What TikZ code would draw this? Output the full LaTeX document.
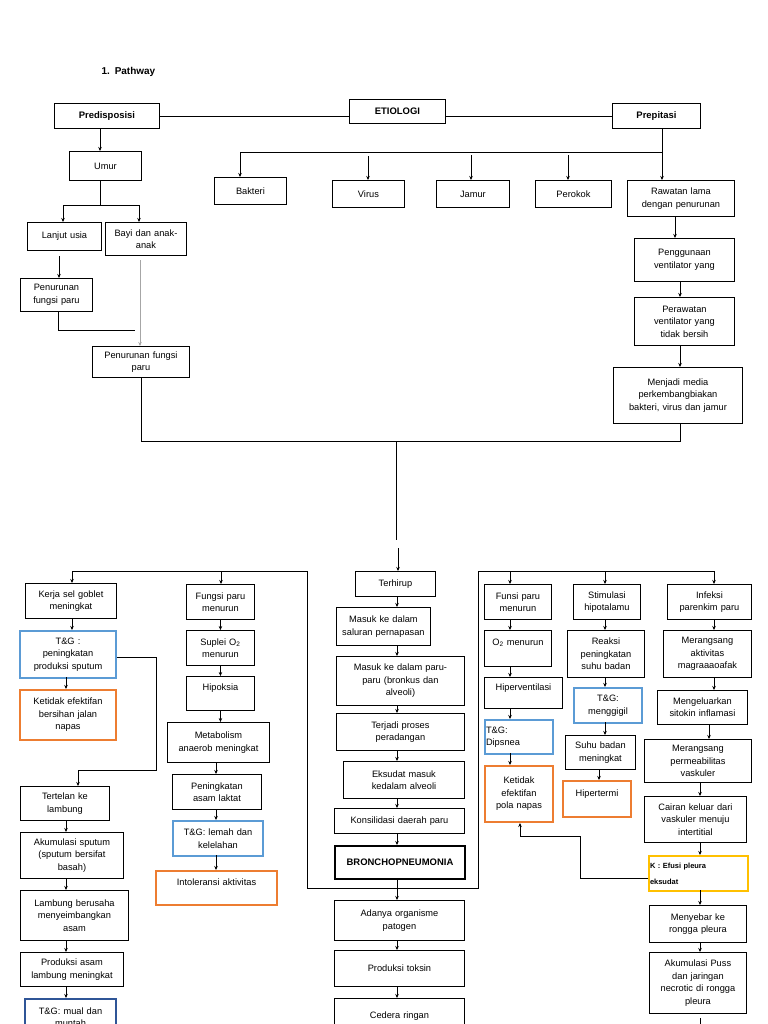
\documentclass[tikz,border=0pt]{standalone}
\usepackage{fontspec}
\setmainfont{Liberation Sans}
\usetikzlibrary{arrows.meta,calc}
\definecolor{cblue}{RGB}{91,155,213}
\definecolor{cdblue}{RGB}{47,85,151}
\definecolor{corange}{RGB}{237,125,49}
\definecolor{cyellow}{RGB}{255,192,0}
\newcommand\bx[7]{\pgfmathsetmacro\bw{#4-#2}\pgfmathsetmacro\bh{#5-#3}\pgfmathsetmacro\tw{#4-#2-2}%
\node[box,#6,minimum width=\bw bp,minimum height=\bh bp,text width=\tw bp,anchor=north west] (#1) at (#2,#3) {#7};}
\newcommand\ar[2]{\draw[arr] (#1.south) -- (#1.south |- #2.north);}
\begin{document}
\hyphenpenalty=10000
\begin{tikzpicture}[x=1bp,y=-1bp,
  box/.style={draw,line width=0.9pt,inner sep=1bp,align=center,font=\fontsize{9.3}{12.5}\selectfont},
  blu/.style={draw=cblue,line width=2pt},
  dblu/.style={draw=cdblue,line width=2pt},
  ora/.style={draw=corange,line width=2pt},
  yel/.style={draw=cyellow,line width=2pt},
  bld/.style={font=\fontsize{9.5}{12.5}\selectfont\bfseries},
  arr/.style={-{Stealth[length=4bp,width=3.5bp]},line width=0.7pt},
  ln/.style={line width=0.8pt}]
\useasboundingbox (0,0) rectangle (768,1024);
\clip (0,0) rectangle (768,1024);
\node[anchor=west,font=\fontsize{10}{12}\selectfont\bfseries] (title) at (98,72) {1.\enspace Pathway};
% top
\bx{pre}{54}{103}{159}{128}{bld}{Predisposisi}
\bx{eti}{349}{99}{445}{123}{bld}{ETIOLOGI}
\bx{prep}{612}{103}{700}{128}{bld}{Prepitasi}
\draw[ln] (pre.east) -- (eti.west |- pre.east);
\draw[ln] (eti.east |- prep.west) -- (prep.west);
\bx{umur}{69}{151}{141}{180}{}{Umur}
\draw[arr] (100,128) -- (100,151);
\bx{lanjut}{27}{222}{101}{250}{}{Lanjut usia}
\bx{bayi}{105}{222}{186}{255}{}{Bayi dan anak-\\anak}
\coordinate (uj) at (100,205);
\draw[ln] (umur.south -| uj) -- (uj);
\draw[arr] (63,205) -- (63,222);
\draw[arr] (139,205) -- (139,222);
\draw[ln] (63,205) -- (139,205);
\bx{pfp1}{20}{278}{92}{311}{}{Penurunan\\fungsi paru}
\draw[arr] (59,256) -- (pfp1.north -| 59,0);
\bx{pfp2}{92}{346}{189}{377}{}{Penurunan fungsi\\paru}
\draw[ln] (58,311) -- (58,330) -- (135,330);
\draw[arr,gray!70] (140,260) -- (pfp2.north -| 140,0);
% etiologi items
\bx{bak}{214}{177}{286}{204}{}{Bakteri}
\bx{vir}{332}{180}{404}{207}{}{Virus}
\bx{jam}{436}{180}{509}{207}{}{Jamur}
\bx{per}{535}{180}{611}{207}{}{Perokok}
\bx{raw}{627}{180}{734}{216}{}{Rawatan lama\\dengan penurunan}
\draw[ln] (240,152) -- (662,152);
\draw[arr] (662,128) -- (662,180);
\draw[arr] (240,152) -- (240,177);
\draw[arr] (368,156) -- (vir.north -| 368,0);
\draw[arr] (471,155) -- (jam.north -| 471,0);
\draw[arr] (568,155) -- (per.north -| 568,0);
\bx{peng}{634}{238}{734}{281}{}{Penggunaan\\ventilator yang}
\bx{pera}{634}{297}{734}{345}{}{Perawatan\\ventilator yang\\tidak bersih}
\bx{menj}{613}{367}{742}{423}{}{Menjadi media\\perkembangbiakan\\bakteri, virus dan jamur}
\draw[arr] (675,216) -- (675,238);
\draw[arr] (680,281) -- (680,297);
\draw[arr] (680,345) -- (680,367);
\draw[ln] (141,377) -- (141,441) -- (680,441) -- (680,423);
\draw[ln] (396,441) -- (396,540);
% middle
\bx{ter}{355}{571}{435}{596}{}{Terhirup}
\draw[arr] (398,548) -- (ter.north -| 398,0);
\bx{m1}{336}{607}{430}{645}{}{Masuk ke dalam\\saluran pernapasan}
\bx{m2}{336}{656}{464}{705}{}{Masuk ke dalam paru-\\paru (bronkus dan\\alveoli)}
\bx{m3}{336}{713}{464}{750}{}{Terjadi proses\\peradangan}
\bx{m4}{343}{761}{464}{798}{}{Eksudat masuk\\kedalam alveoli}
\bx{m5}{334}{808}{464}{833}{}{Konsilidasi daerah paru}
\bx{bp}{334}{845}{464}{878}{line width=2pt,bld}{BRONCHOPNEUMONIA}
\bx{m6}{334}{900}{464}{940}{}{Adanya organisme\\patogen}
\bx{m7}{334}{950}{464}{986}{}{Produksi toksin}
\bx{m8}{334}{998}{464}{1034}{}{Cedera ringan}
\draw[arr] (397,596) -- (397,607);
\draw[arr] (397,645) -- (397,656);
\draw[arr] (397,705) -- (397,713);
\draw[arr] (397,750) -- (397,761);
\draw[arr] (397,798) -- (397,808);
\draw[arr] (397,833) -- (397,845);
\draw[arr] (397,878) -- (397,900);
\draw[arr] (397,940) -- (397,950);
\draw[arr] (397,986) -- (397,998);
% bracket
\draw[ln] (72,571) -- (307,571) -- (307,888) -- (478,888) -- (478,571) -- (714,571);
% left col
\bx{k1}{25}{583}{116}{618}{}{Kerja sel goblet\\meningkat}
\bx{k2}{19}{630}{115}{677}{blu}{T\&G :\\peningkatan\\produksi sputum}
\bx{k3}{19}{689}{115}{739}{ora}{Ketidak efektifan\\bersihan jalan\\napas}
\bx{k4}{20}{786}{109}{820}{}{Tertelan ke\\lambung}
\bx{k5}{20}{832}{123}{878}{}{Akumulasi sputum\\(sputum bersifat\\basah)}
\bx{k6}{20}{890}{128}{940}{}{Lambung berusaha\\menyeimbangkan\\asam}
\bx{k7}{20}{952}{123}{986}{}{Produksi asam\\lambung meningkat}
\bx{k8}{24}{998}{115}{1034}{dblu}{T\&G: mual dan\\muntah}
\draw[arr] (72,571) -- (k1.north -| 72,0);
\draw[arr] (72,618) -- (72,630);
\draw[arr] (66,677) -- (66,689);
\draw[ln] (k2.east |- 0,657) -- (156,657) -- (156,770) -- (78,770);
\draw[arr] (78,770) -- (k4.north -| 78,0);
\draw[arr] (66,820) -- (66,832);
\draw[arr] (66,878) -- (66,890);
\draw[arr] (66,940) -- (66,952);
\draw[arr] (66,986) -- (66,998);
\bx{f1}{186}{584}{254}{619}{}{Fungsi paru\\menurun}
\bx{f2}{186}{630}{254}{665}{}{Suplei O\textsubscript{2}\\menurun}
\bx{f3}{186}{676}{254}{710}{}{Hipoksia\\\mbox{}}
\bx{f4}{167}{722}{269}{762}{}{Metabolism\\anaerob meningkat}
\bx{f5}{172}{774}{261}{809}{}{Peningkatan\\asam laktat}
\bx{f6}{172}{820}{262}{855}{blu}{T\&G: lemah dan\\kelelahan}
\bx{f7}{155}{870}{276}{904}{ora}{Intoleransi aktivitas\\\mbox{}}
\draw[arr] (221,571) -- (f1.north -| 221,0);
\ar{f1}{f2}\ar{f2}{f3}\ar{f3}{f4}
\draw[arr] (216,762) -- (216,774);
\draw[arr] (216,809) -- (216,820);
\draw[arr] (216,855) -- (216,870);
% right cols
\bx{r1}{484}{584}{551}{619}{}{Funsi paru\\menurun}
\bx{r2}{484}{630}{551}{666}{}{O\textsubscript{2} menurun\\\mbox{}}
\bx{r3}{484}{677}{562}{708}{}{Hiperventilasi\\\mbox{}}
\bx{r4}{484}{719}{552}{753}{blu,align=left}{T\&G:\\Dipsnea}
\bx{r5}{484}{765}{552}{821}{ora}{Ketidak\\efektifan\\pola napas}
\draw[arr] (510,571) -- (r1.north -| 510,0);
\draw[arr] (510,619) -- (510,630);
\draw[arr] (510,666) -- (510,677);
\draw[arr] (510,708) -- (510,719);
\draw[arr] (510,753) -- (510,765);
\bx{s1}{573}{584}{640}{619}{}{Stimulasi\\hipotalamu}
\bx{s2}{567}{630}{644}{677}{}{Reaksi\\peningkatan\\suhu badan}
\bx{s3}{573}{687}{641}{722}{blu}{T\&G:\\menggigil}
\bx{s4}{565}{735}{635}{769}{}{Suhu badan\\meningkat}
\bx{s5}{562}{780}{630}{816}{ora}{Hipertermi\\\mbox{}}
\draw[arr] (605,571) -- (s1.north -| 605,0);
\draw[arr] (605,619) -- (605,630);
\draw[arr] (605,677) -- (605,687);
\draw[arr] (605,722) -- (605,735);
\draw[arr] (599,769) -- (599,780);
\bx{i1}{667}{584}{751}{619}{}{Infeksi\\parenkim paru}
\bx{i2}{663}{630}{751}{677}{}{Merangsang\\aktivitas\\magraaaoafak}
\bx{i3}{657}{690}{747}{724}{}{Mengeluarkan\\sitokin inflamasi}
\bx{i4}{644}{739}{751}{782}{}{Merangsang\\permeabilitas\\vaskuler}
\bx{i5}{644}{796}{746}{842}{}{Cairan keluar dari\\vaskuler menuju\\intertitial}
\bx{i6}{648}{855}{747}{890}{yel,align=left,font=\fontsize{7.5}{16}\selectfont\bfseries}{K : Efusi pleura\\eksudat}
\bx{i7}{649}{905}{746}{942}{}{Menyebar ke\\rongga pleura}
\bx{i8}{649}{952}{746}{1013}{}{Akumulasi Puss\\dan jaringan\\necrotic di rongga\\pleura}
\draw[arr] (714,571) -- (i1.north -| 714,0);
\draw[arr] (714,619) -- (714,630);
\draw[arr] (714,677) -- (714,690);
\draw[arr] (709,724) -- (709,739);
\draw[arr] (700,782) -- (700,796);
\draw[arr] (700,842) -- (700,855);
\draw[arr] (700,890) -- (700,905);
\draw[arr] (700,942) -- (700,952);
\draw[ln] (700,1018) -- (700,1024);
\draw[ln] (i6.west |- 0,878) -- (580,878) -- (580,836) -- (520,836);
\draw[arr] (520,836) -- (r5.south -| 520,0);
\end{tikzpicture}
\end{document}
